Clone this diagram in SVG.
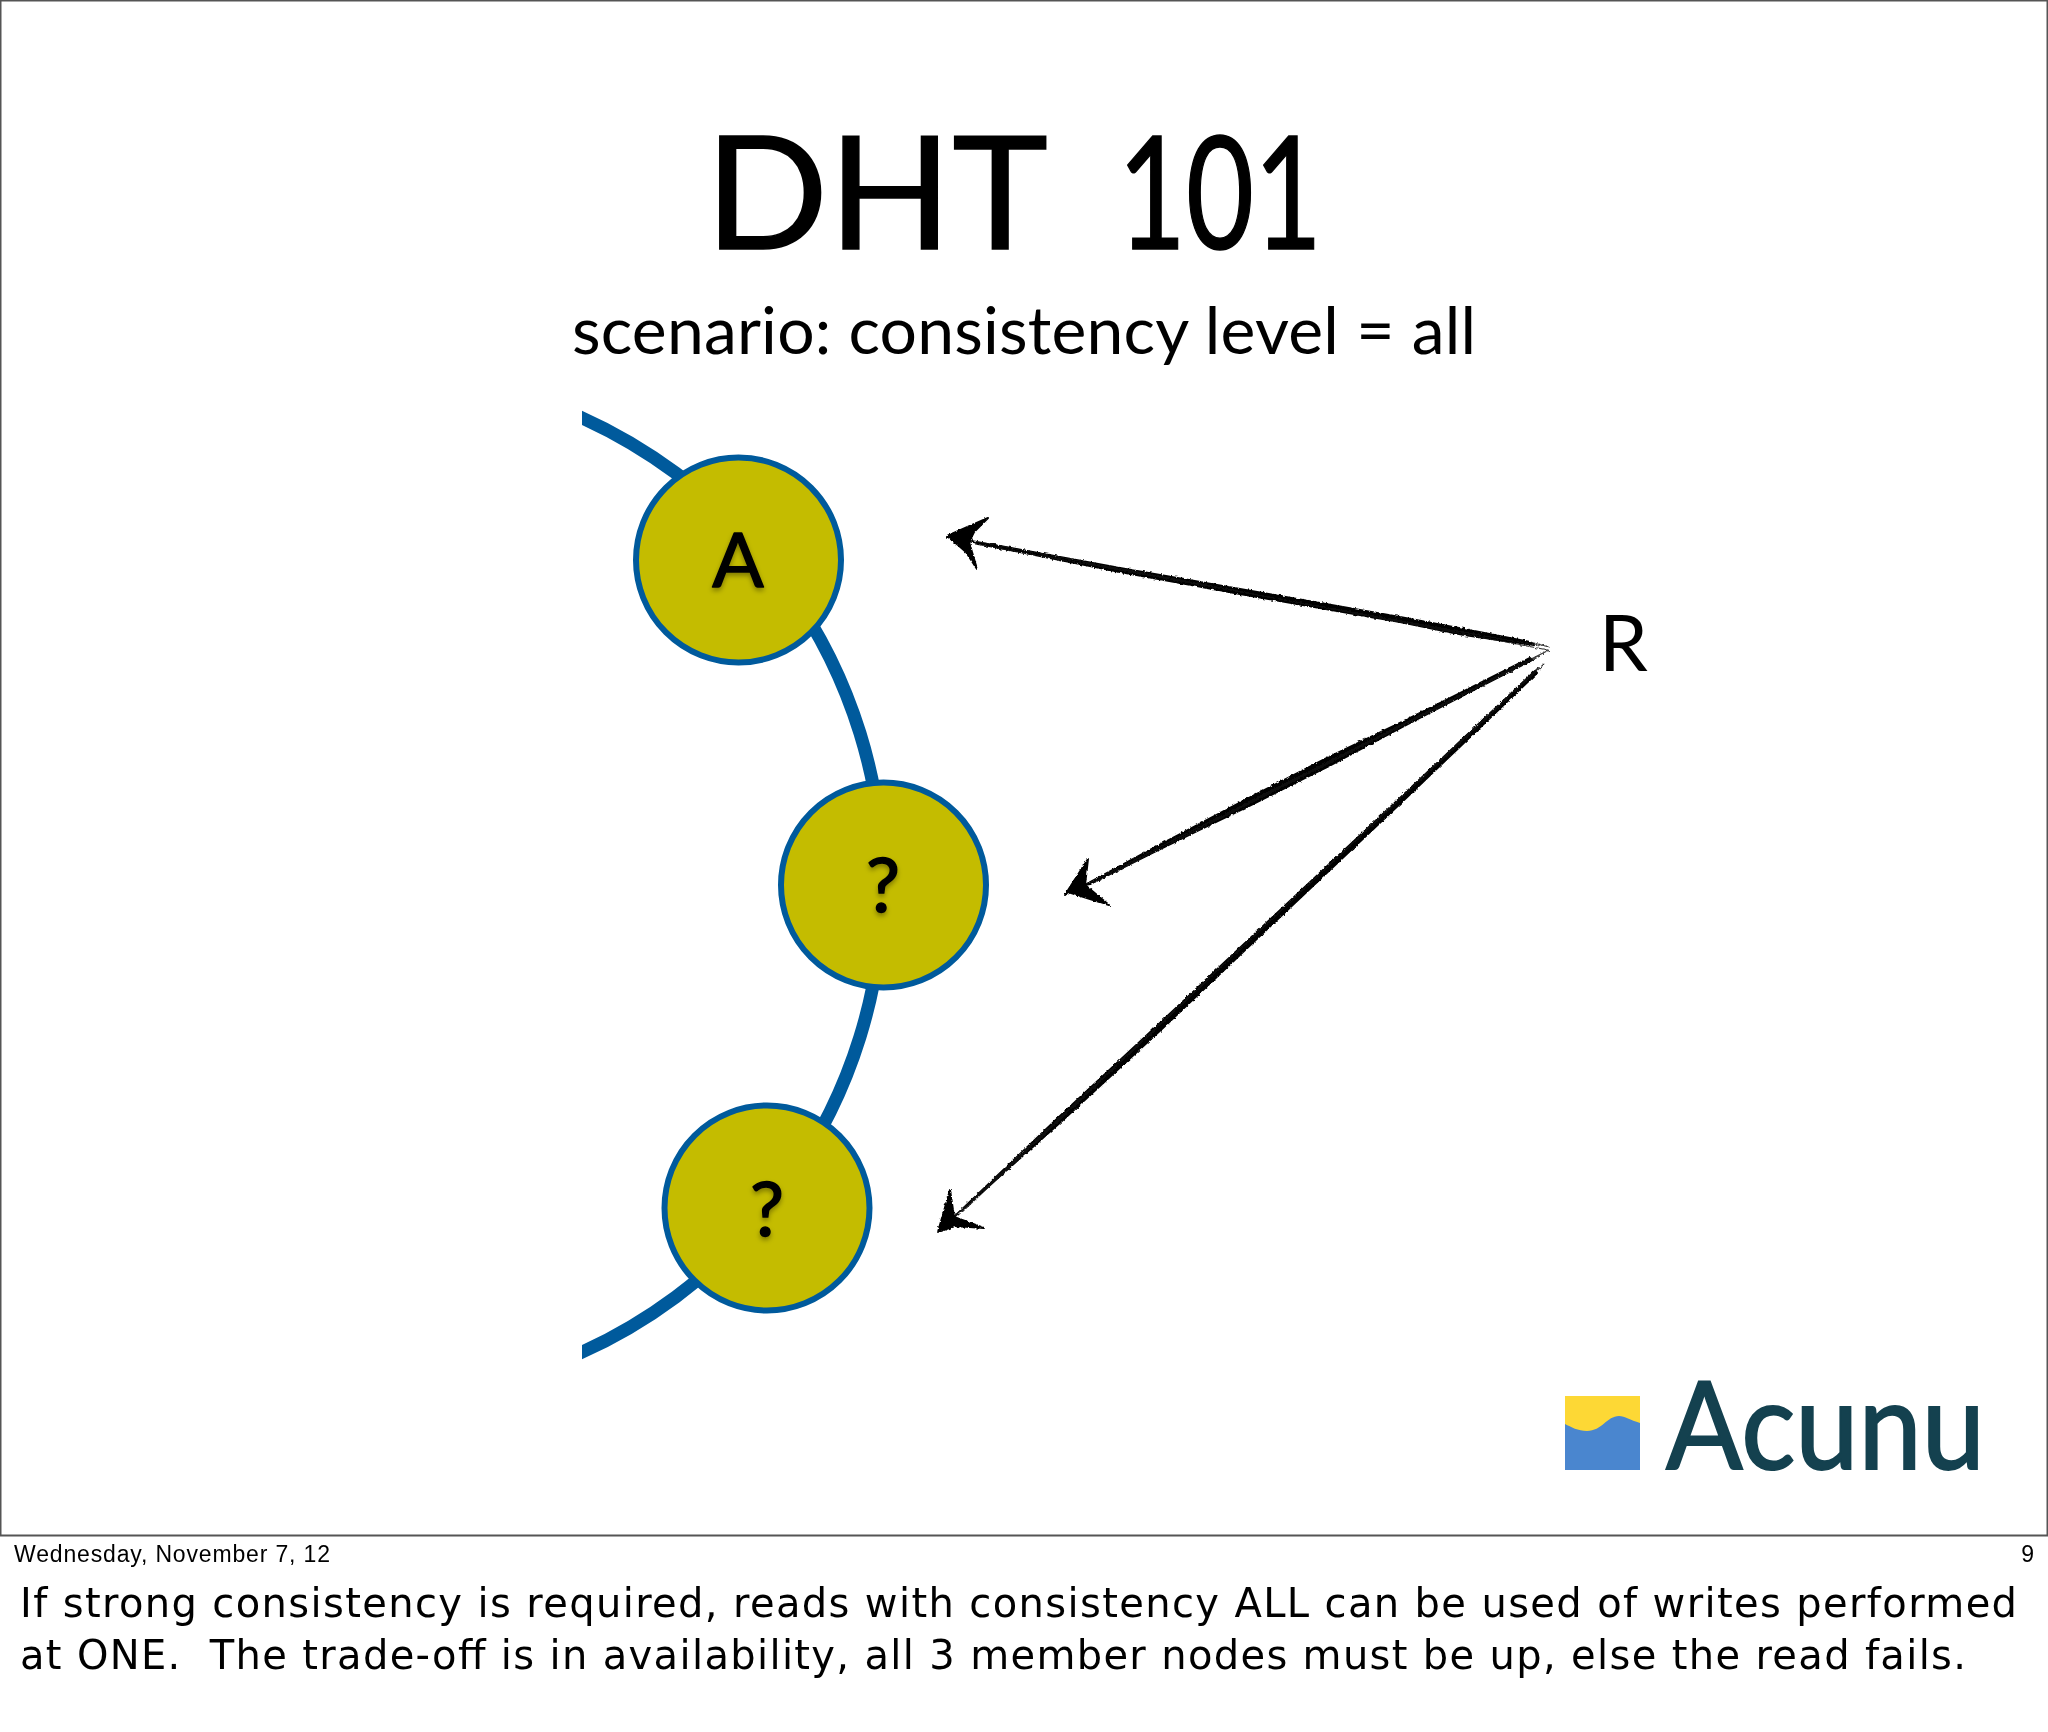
<svg xmlns="http://www.w3.org/2000/svg" width="2048" height="1732" viewBox="0 0 2048 1732">
  <defs>
    <filter id="soft" x="-30%" y="-30%" width="160%" height="160%">
      <feDropShadow dx="0" dy="3" stdDeviation="2.5" flood-color="#000" flood-opacity="0.35"/>
    </filter>
    <filter id="sketch" filterUnits="userSpaceOnUse" x="900" y="480" width="700" height="800">
      <feTurbulence type="fractalNoise" baseFrequency="0.35" numOctaves="2" seed="4"/>
      <feDisplacementMap in="SourceGraphic" scale="3" xChannelSelector="R" yChannelSelector="G"/>
    </filter>
    <clipPath id="ringclip"><rect x="582" y="300" width="500" height="1200"/></clipPath>
  </defs>
  <style>
    .gill { font-family: "Lato", "Open Sans", sans-serif; fill: #000; }
    .node { fill: #c4bc00; stroke: #005a9c; stroke-width: 6; }
    .nlabel { font-family: "Lato", "DejaVu Sans", sans-serif; font-size: 76px; text-anchor: middle; fill: #000; stroke: #000; stroke-width: 1.5; stroke-linejoin: round; filter: url(#soft); }
    .ink { fill: #000; stroke: #000; stroke-width: 2; stroke-linejoin: round; }
    .hair { fill: none; stroke: #111; stroke-width: 1.2; opacity: 0.85; }
    .body { font-family: "DejaVu Sans", "Open Sans", sans-serif; font-size: 40px; fill: #000; }
    .foot { font-family: "Liberation Sans", Arial, sans-serif; font-size: 23px; fill: #000; }
  </style>
  <rect width="2048" height="1732" fill="#fff"/>
  <rect id="frame" x="0.5" y="0.5" width="2047" height="1535" fill="#fff" stroke="#555" stroke-width="2"/>

  <text id="title" class="gill" x="705" y="249" font-size="158" stroke="#000" stroke-width="1.5"><tspan textLength="343" lengthAdjust="spacingAndGlyphs">DHT</tspan><tspan x="1118" textLength="204" lengthAdjust="spacingAndGlyphs">101</tspan></text>
  <text id="subtitle" class="gill" x="572" y="354" font-size="66" textLength="904" lengthAdjust="spacing">scenario: consistency level = all</text>

  <path id="ring" d="M540 401 A513 513 0 0 1 540 1369" fill="none" stroke="#005a9c" stroke-width="13" clip-path="url(#ringclip)"/>

  <g id="connectors" filter="url(#sketch)">
    <g id="arrow-a">
      <polygon class="ink" points="1530,642 1464,629 1400,617 1240,589 1120,568 1000,546 968,541 1000,548 1120,572 1240,594 1400,622 1464,635 1534,645"/>
      <path class="hair" d="M1549 647 L1530 642 M1548 650 L969 540 M1540 646 L975 544"/>
      <polygon class="ink" points="947,536 988,518 974,532 969,542 977,569 966,552 958,545"/>
    </g>
    <g id="arrow-q1">
      <polygon class="ink" points="1530,658 1400,723 1325,759 1249,798 1150,850 1085,885 1090,884 1152,853 1251,805 1327,767 1402,727 1532,660"/>
      <path class="hair" d="M1549 650 L1085 885 M1540 656 L1095 882"/>
      <polygon class="ink" points="1065,895 1088,859 1085,885 1109,905 1090,899 1068,892"/>
    </g>
    <g id="arrow-q2">
      <polygon class="ink" points="1535,671 1400,798 1260,929 1160,1023 1060,1116 954,1217 1063,1120 1164,1027 1263,933 1403,801 1537,673"/>
      <path class="hair" d="M1544 664 L954 1217 M1538 668 L962 1212"/>
      <polygon class="ink" points="938,1232 950,1190 954,1217 984,1228 955,1226"/>
    </g>
  </g>

  <g id="node-a">
    <circle class="node" cx="738.5" cy="560" r="102.5"/>
    <text class="nlabel" x="738" y="587">A</text>
  </g>
  <g id="node-q1">
    <circle class="node" cx="883.5" cy="885" r="102.5"/>
    <text class="nlabel" x="883" y="912">?</text>
  </g>
  <g id="node-q2">
    <circle class="node" cx="767" cy="1208" r="102.5"/>
    <text class="nlabel" x="767" y="1236">?</text>
  </g>

  <g id="node-r">
    <text class="gill" x="1599" y="671" font-size="78">R</text>
  </g>

  <g id="logo">
    <rect x="1565" y="1396" width="75" height="74" fill="#4a86cf"/>
    <path d="M1565 1396 H1640 V1423 C1630 1420 1625 1416 1619 1416 C1607 1416 1602 1431 1587 1431 C1578 1431 1571 1427 1565 1424 Z" fill="#fdd835"/>
    <text x="1666" y="1469" font-family="Lato, 'Open Sans', sans-serif" font-size="122" fill="#14414f" stroke="#14414f" stroke-width="2" textLength="319" lengthAdjust="spacingAndGlyphs">Acunu</text>
  </g>

  <text id="date" class="foot" x="14" y="1562" textLength="316" lengthAdjust="spacing">Wednesday, November 7, 12</text>
  <text id="page" class="foot" x="2034" y="1562" text-anchor="end">9</text>
  <text id="note1" class="body" x="20" y="1617" textLength="1997" lengthAdjust="spacing">If strong consistency is required, reads with consistency ALL can be used of writes performed</text>
  <text id="note2" class="body" x="20" y="1669" textLength="1946" lengthAdjust="spacing" xml:space="preserve">at ONE.  The trade-off is in availability, all 3 member nodes must be up, else the read fails.</text>
</svg>
